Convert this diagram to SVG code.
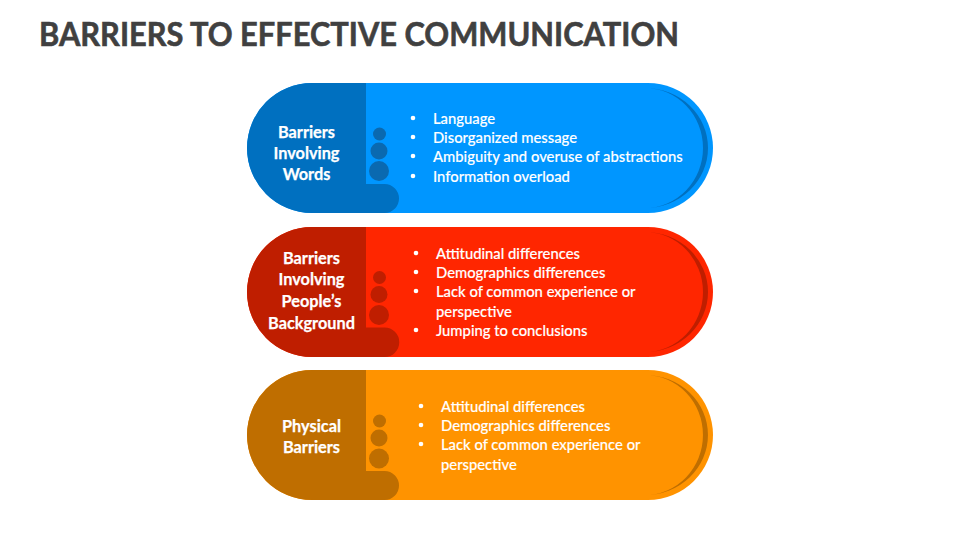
<svg xmlns="http://www.w3.org/2000/svg" width="960" height="540" viewBox="0 0 960 540">
<style>
text{font-family:Lato,"Open Sans",sans-serif}
.t{font-size:33px;font-weight:700;fill:#404040;stroke:#404040;stroke-width:.6px}
.h{font-size:16.300px;font-weight:700;fill:#fff;text-anchor:middle;stroke:#fff;stroke-width:.25px}
.b{font-size:14.800px;font-weight:500;fill:#fff;stroke:#fff;stroke-width:.15px}
.w{fill:#fff}
.blue .m{fill:#0096ff}.blue .d{fill:#0070c0}.blue .c{fill:#0a69b0}
.red .m{fill:#ff2600}.red .d{fill:#bf1e00}.red .c{fill:#bf1e00}
.org .m{fill:#ff9300}.org .d{fill:#bf6e00}.org .c{fill:#bf6e00}
</style>
<text class="t" x="39" y="46" textLength="640" lengthAdjust="spacingAndGlyphs">BARRIERS TO EFFECTIVE COMMUNICATION</text>
<g id="node-words" class="blue">
<rect class="m" x="247" y="83" width="466" height="130" rx="65"/>
<path class="d" d="M312 83H366V184H384.500A14.500 14.500 0 0 1 384.500 213H312A65 65 0 0 1 312 83Z"/>
<path class="d" d="M645 88A63 60 0 0 1 645 208A58 60 0 0 0 645 88Z"/>
<circle class="c" cx="379.500" cy="134" r="6.500"/>
<circle class="c" cx="379" cy="151" r="8.500"/>
<circle class="c" cx="379" cy="171" r="10"/>
<text class="h" x="306.500" y="137.500">Barriers</text>
<text class="h" x="306.500" y="159">Involving</text>
<text class="h" x="306.500" y="180">Words</text>
<circle class="w" cx="413" cy="118" r="2.300"/><text class="b" x="433" y="124">Language</text>
<circle class="w" cx="413" cy="137" r="2.300"/><text class="b" x="433" y="143">Disorganized message</text>
<circle class="w" cx="413" cy="156" r="2.300"/><text class="b" x="433" y="162">Ambiguity and overuse of abstractions</text>
<circle class="w" cx="413" cy="176" r="2.300"/><text class="b" x="433" y="182">Information overload</text>
</g>
<g id="node-background" class="red">
<rect class="m" x="247" y="227" width="466" height="130" rx="65"/>
<path class="d" d="M312 227H366V327.500H384.500A14.500 14.500 0 0 1 384.500 357H312A65 65 0 0 1 312 227Z"/>
<path class="d" d="M645 232A63 60 0 0 1 645 352A58 60 0 0 0 645 232Z"/>
<circle class="c" cx="379.500" cy="277.500" r="6.500"/>
<circle class="c" cx="379" cy="294.500" r="8.500"/>
<circle class="c" cx="379" cy="315" r="10"/>
<text class="h" x="311.500" y="264">Barriers</text>
<text class="h" x="311.500" y="285">Involving</text>
<text class="h" x="311.500" y="307">People’s</text>
<text class="h" x="311.500" y="328.500">Background</text>
<circle class="w" cx="416" cy="253" r="2.300"/><text class="b" x="436" y="259">Attitudinal differences</text>
<circle class="w" cx="416" cy="272" r="2.300"/><text class="b" x="436" y="278">Demographics differences</text>
<circle class="w" cx="416" cy="291" r="2.300"/><text class="b" x="436" y="297">Lack of common experience or</text>
<text class="b" x="436" y="317">perspective</text>
<circle class="w" cx="416" cy="330" r="2.300"/><text class="b" x="436" y="336">Jumping to conclusions</text>
</g>
<g id="node-physical" class="org">
<rect class="m" x="247" y="370" width="466" height="130" rx="65"/>
<path class="d" d="M312 370H366V471H384.500A14.500 14.500 0 0 1 384.500 500H312A65 65 0 0 1 312 370Z"/>
<path class="d" d="M645 375A63 60 0 0 1 645 495A58 60 0 0 0 645 375Z"/>
<circle class="c" cx="379.500" cy="421" r="6.500"/>
<circle class="c" cx="379" cy="438" r="8.500"/>
<circle class="c" cx="379" cy="458.500" r="10"/>
<text class="h" x="311.500" y="431.500">Physical</text>
<text class="h" x="311.500" y="453">Barriers</text>
<circle class="w" cx="421" cy="406" r="2.300"/><text class="b" x="441" y="412">Attitudinal differences</text>
<circle class="w" cx="421" cy="425" r="2.300"/><text class="b" x="441" y="431">Demographics differences</text>
<circle class="w" cx="421" cy="444" r="2.300"/><text class="b" x="441" y="450">Lack of common experience or</text>
<text class="b" x="441" y="470">perspective</text>
</g>
<g id="connectors"></g>
</svg>
